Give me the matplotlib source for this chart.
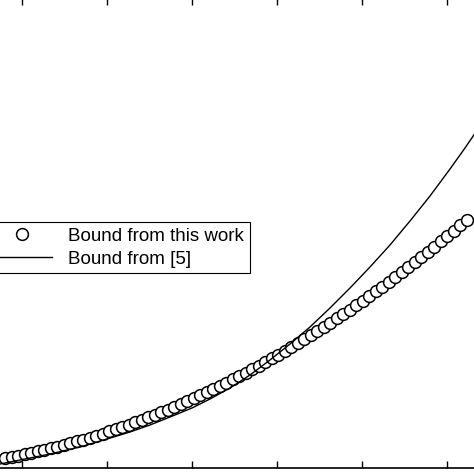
import numpy as np
import matplotlib
matplotlib.use("Agg")
import matplotlib.pyplot as plt

plt.rcParams['font.family'] = ['Liberation Sans', 'DejaVu Sans']

# marker series (x in pixel-like data units, y values)
marker_x = [5 + 6.5 * k for k in range(72)]
marker_y = [10, 11.2, 12.5, 13.8, 15.2, 16.6, 18.1, 19.7, 21.3, 23.0, 24.8, 26.6, 28.5, 30.4,
            32.4, 34.5, 36.6, 38.8, 41.0, 43.4, 45.7, 48.2, 50.6, 53.2, 55.8, 58.5, 61.2, 64.0,
            66.9, 69.8, 72.8, 75.9, 79.0, 82.2, 85.4, 88.7, 92.0, 95.5, 99.0, 102.5, 106.1,
            109.8, 113.5, 117.3, 121.1, 125.0, 129.0, 133.0, 137.1, 141.3, 145.5, 149.8, 154.1,
            158.5, 163.0, 167.5, 172.1, 176.8, 181.5, 186.2, 191.1, 196.0, 200.9, 205.9, 211.1,
            216.2, 221.4, 226.7, 232.0, 237.3, 242.8, 248.4]
line_x = [0, 25, 50, 80, 107, 130, 150, 170, 192, 210, 230, 250, 270, 290, 310, 330, 350,
          370, 390, 410, 430, 450, 465, 480]
line_y = [4, 9, 14, 21, 29, 36, 43, 51, 60, 69, 80, 93, 108, 124, 141, 160, 180,
          201, 223, 247, 272, 299, 320, 342]

fig = plt.figure(figsize=(4.74, 4.74), dpi=100)
ax = fig.add_axes([-63 / 474, 6 / 474, 595 / 474, 470 / 474])
ax.plot(marker_x, marker_y, 'o', mfc='white', mec='black', ms=8.5, mew=1.1,
        label='Bound from this work')
ax.plot(line_x, line_y, '-', color='black', lw=1.0, label='Bound from [5]')
ax.set_xlim(-63, 532)
ax.set_ylim(0, 470)
ax.set_xticks([22 + 85 * i for i in range(7)])
ax.set_xticklabels([])
ax.set_yticks([])
ax.tick_params(axis='x', direction='in', top=True, length=5, width=1)
for s in ax.spines.values():
    s.set_linewidth(1.2)
leg = ax.legend(loc='upper right', bbox_to_anchor=(250 / 474, 1 - 222 / 474),
                bbox_transform=fig.transFigure, fontsize=13.5, fancybox=False,
                edgecolor='black', framealpha=1, borderaxespad=0, handlelength=3.2,
                labelspacing=0.3, borderpad=0.3, handletextpad=0.9)
leg.get_frame().set_linewidth(0.8)
fig.savefig('out.png', dpi=100)
